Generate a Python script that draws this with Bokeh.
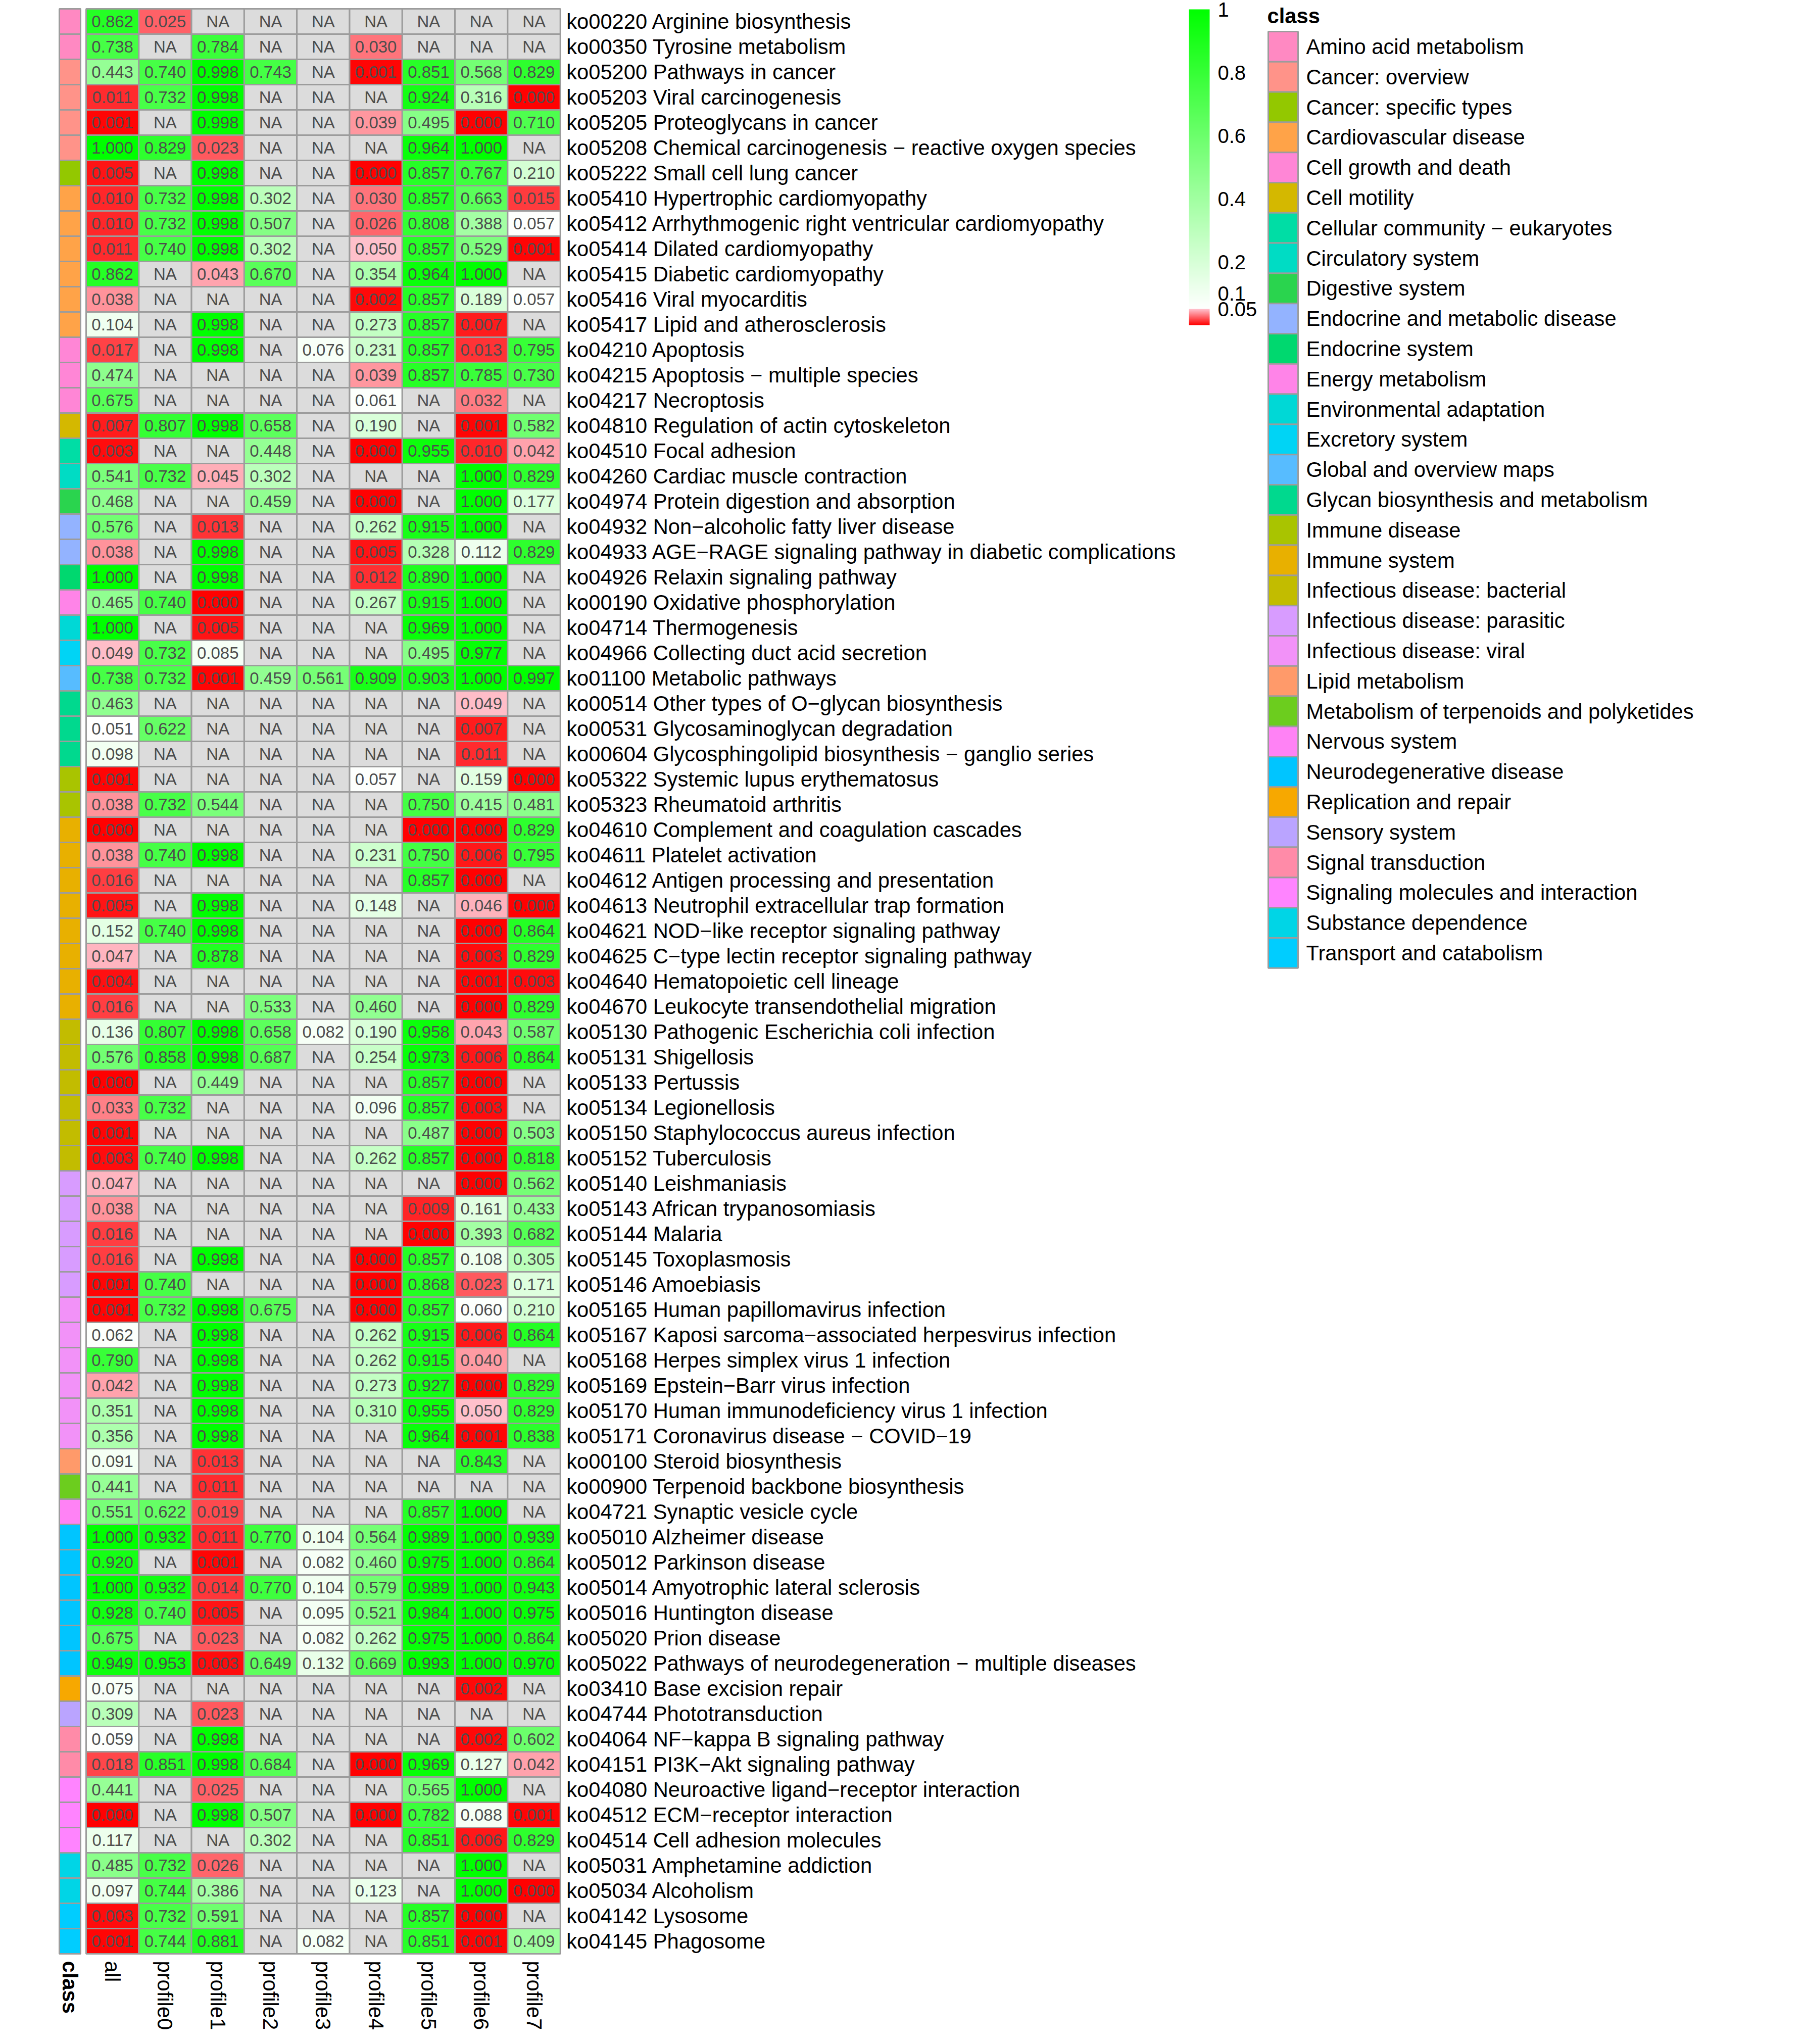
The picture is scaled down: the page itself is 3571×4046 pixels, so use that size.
import math
import numpy as np
from bokeh.plotting import figure
from bokeh.models import (ColumnDataSource, Range1d, LinearColorMapper, ColorBar, FixedTicker,
                          AllLabels)
from bokeh.core.properties import value
from bokeh.embed import file_html
from bokeh.resources import INLINE

# ---------------- data ----------------
columns = ["all", "profile0", "profile1", "profile2", "profile3",
           "profile4", "profile5", "profile6", "profile7"]

pathway_ids = [
    "ko00220", "ko00350", "ko05200", "ko05203", "ko05205", "ko05208", "ko05222",
    "ko05410", "ko05412", "ko05414", "ko05415", "ko05416", "ko05417",
    "ko04210", "ko04215", "ko04217", "ko04810", "ko04510", "ko04260", "ko04974",
    "ko04932", "ko04933", "ko04926", "ko00190", "ko04714", "ko04966", "ko01100",
    "ko00514", "ko00531", "ko00604", "ko05322", "ko05323",
    "ko04610", "ko04611", "ko04612", "ko04613", "ko04621", "ko04625", "ko04640", "ko04670",
    "ko05130", "ko05131", "ko05133", "ko05134", "ko05150", "ko05152",
    "ko05140", "ko05143", "ko05144", "ko05145", "ko05146",
    "ko05165", "ko05167", "ko05168", "ko05169", "ko05170", "ko05171",
    "ko00100", "ko00900", "ko04721",
    "ko05010", "ko05012", "ko05014", "ko05016", "ko05020", "ko05022",
    "ko03410", "ko04744", "ko04064", "ko04151", "ko04080", "ko04512", "ko04514",
    "ko05031", "ko05034", "ko04142", "ko04145",
]

pathway_names = [
    "Arginine biosynthesis", "Tyrosine metabolism", "Pathways in cancer",
    "Viral carcinogenesis", "Proteoglycans in cancer",
    "Chemical carcinogenesis \u2212 reactive oxygen species", "Small cell lung cancer",
    "Hypertrophic cardiomyopathy", "Arrhythmogenic right ventricular cardiomyopathy",
    "Dilated cardiomyopathy", "Diabetic cardiomyopathy", "Viral myocarditis",
    "Lipid and atherosclerosis", "Apoptosis", "Apoptosis \u2212 multiple species",
    "Necroptosis", "Regulation of actin cytoskeleton", "Focal adhesion",
    "Cardiac muscle contraction", "Protein digestion and absorption",
    "Non\u2212alcoholic fatty liver disease",
    "AGE\u2212RAGE signaling pathway in diabetic complications",
    "Relaxin signaling pathway", "Oxidative phosphorylation", "Thermogenesis",
    "Collecting duct acid secretion", "Metabolic pathways",
    "Other types of O\u2212glycan biosynthesis", "Glycosaminoglycan degradation",
    "Glycosphingolipid biosynthesis \u2212 ganglio series",
    "Systemic lupus erythematosus", "Rheumatoid arthritis",
    "Complement and coagulation cascades", "Platelet activation",
    "Antigen processing and presentation", "Neutrophil extracellular trap formation",
    "NOD\u2212like receptor signaling pathway", "C\u2212type lectin receptor signaling pathway",
    "Hematopoietic cell lineage", "Leukocyte transendothelial migration",
    "Pathogenic Escherichia coli infection", "Shigellosis", "Pertussis", "Legionellosis",
    "Staphylococcus aureus infection", "Tuberculosis", "Leishmaniasis",
    "African trypanosomiasis", "Malaria", "Toxoplasmosis", "Amoebiasis",
    "Human papillomavirus infection",
    "Kaposi sarcoma\u2212associated herpesvirus infection",
    "Herpes simplex virus 1 infection", "Epstein\u2212Barr virus infection",
    "Human immunodeficiency virus 1 infection", "Coronavirus disease \u2212 COVID\u221219",
    "Steroid biosynthesis", "Terpenoid backbone biosynthesis", "Synaptic vesicle cycle",
    "Alzheimer disease", "Parkinson disease", "Amyotrophic lateral sclerosis",
    "Huntington disease", "Prion disease",
    "Pathways of neurodegeneration \u2212 multiple diseases",
    "Base excision repair", "Phototransduction", "NF\u2212kappa B signaling pathway",
    "PI3K\u2212Akt signaling pathway", "Neuroactive ligand\u2212receptor interaction",
    "ECM\u2212receptor interaction", "Cell adhesion molecules", "Amphetamine addiction",
    "Alcoholism", "Lysosome", "Phagosome",
]

class_levels = [
    "Amino acid metabolism", "Cancer: overview", "Cancer: specific types",
    "Cardiovascular disease", "Cell growth and death", "Cell motility",
    "Cellular community \u2212 eukaryotes", "Circulatory system", "Digestive system",
    "Endocrine and metabolic disease", "Endocrine system", "Energy metabolism",
    "Environmental adaptation", "Excretory system", "Global and overview maps",
    "Glycan biosynthesis and metabolism", "Immune disease", "Immune system",
    "Infectious disease: bacterial", "Infectious disease: parasitic",
    "Infectious disease: viral", "Lipid metabolism",
    "Metabolism of terpenoids and polyketides", "Nervous system",
    "Neurodegenerative disease", "Replication and repair", "Sensory system",
    "Signal transduction", "Signaling molecules and interaction",
    "Substance dependence", "Transport and catabolism",
]

class_colors = [
    "#FF89C2", "#FF9389", "#93C800", "#FFA348", "#FF86D6", "#D4B800",
    "#00DDA5", "#00DCC4", "#2AD44E", "#93B3FF", "#00D86F", "#FF84E8",
    "#00D8D6", "#00D4F5", "#57BCFF", "#00D98E", "#A9C400", "#E8B000",
    "#C2BC00", "#D89CFF", "#F292F8", "#FF9A6A", "#6CCD1E", "#FF82F5",
    "#00C5FF", "#F7A800", "#BAA4FF", "#FF8BA8", "#FF84FF", "#00D5E6",
    "#00CDFF",
]

# class index (into class_levels) of every pathway row
pathway_class = [
    0, 0, 1, 1, 1, 1, 2, 3, 3, 3, 3, 3, 3, 4, 4, 4, 5, 6, 7, 8, 9, 9, 10, 11, 12, 13, 14,
    15, 15, 15, 16, 16, 17, 17, 17, 17, 17, 17, 17, 17, 18, 18, 18, 18, 18, 18,
    19, 19, 19, 19, 19, 20, 20, 20, 20, 20, 20, 21, 22, 23,
    24, 24, 24, 24, 24, 24, 25, 26, 27, 27, 28, 28, 28, 29, 29, 30, 30,
]

NA = None
all_vals = [0.862, 0.738, 0.443, 0.011, 0.001, 1.000, 0.005, 0.010, 0.010, 0.011, 0.862, 0.038, 0.104,
            0.017, 0.474, 0.675, 0.007, 0.003, 0.541, 0.468, 0.576, 0.038, 1.000, 0.465, 1.000, 0.049,
            0.738, 0.463, 0.051, 0.098, 0.001, 0.038, 0.000, 0.038, 0.016, 0.005, 0.152, 0.047, 0.004,
            0.016, 0.136, 0.576, 0.000, 0.033, 0.001, 0.003, 0.047, 0.038, 0.016, 0.016, 0.001, 0.001,
            0.062, 0.790, 0.042, 0.351, 0.356, 0.091, 0.441, 0.551, 1.000, 0.920, 1.000, 0.928, 0.675,
            0.949, 0.075, 0.309, 0.059, 0.018, 0.441, 0.000, 0.117, 0.485, 0.097, 0.003, 0.001]
profile0 = [0.025, NA, 0.740, 0.732, NA, 0.829, NA, 0.732, 0.732, 0.740, NA, NA, NA,
            NA, NA, NA, 0.807, NA, 0.732, NA, NA, NA, NA, 0.740, NA, 0.732,
            0.732, NA, 0.622, NA, NA, 0.732, NA, 0.740, NA, NA, 0.740, NA, NA,
            NA, 0.807, 0.858, NA, 0.732, NA, 0.740, NA, NA, NA, NA, 0.740, 0.732,
            NA, NA, NA, NA, NA, NA, NA, 0.622, 0.932, NA, 0.932, 0.740, NA,
            0.953, NA, NA, NA, 0.851, NA, NA, NA, 0.732, 0.744, 0.732, 0.744]
profile1 = [NA, 0.784, 0.998, 0.998, 0.998, 0.023, 0.998, 0.998, 0.998, 0.998, 0.043, NA, 0.998,
            0.998, NA, NA, 0.998, NA, 0.045, NA, 0.013, 0.998, 0.998, 0.000, 0.005, 0.085,
            0.001, NA, NA, NA, NA, 0.544, NA, 0.998, NA, 0.998, 0.998, 0.878, NA,
            NA, 0.998, 0.998, 0.449, NA, NA, 0.998, NA, NA, NA, 0.998, NA, 0.998,
            0.998, 0.998, 0.998, 0.998, 0.998, 0.013, 0.011, 0.019, 0.011, 0.001, 0.014, 0.005, 0.023,
            0.003, NA, 0.023, 0.998, 0.998, 0.025, 0.998, NA, 0.026, 0.386, 0.591, 0.881]
profile2 = [NA, NA, 0.743, NA, NA, NA, NA, 0.302, 0.507, 0.302, 0.670, NA, NA,
            NA, NA, NA, 0.658, 0.448, 0.302, 0.459, NA, NA, NA, NA, NA, NA,
            0.459, NA, NA, NA, NA, NA, NA, NA, NA, NA, NA, NA, NA,
            0.533, 0.658, 0.687, NA, NA, NA, NA, NA, NA, NA, NA, NA, 0.675,
            NA, NA, NA, NA, NA, NA, NA, NA, 0.770, NA, 0.770, NA, NA,
            0.649, NA, NA, NA, 0.684, NA, 0.507, 0.302, NA, NA, NA, NA]
profile3 = [NA, NA, NA, NA, NA, NA, NA, NA, NA, NA, NA, NA, NA,
            0.076, NA, NA, NA, NA, NA, NA, NA, NA, NA, NA, NA, NA,
            0.561, NA, NA, NA, NA, NA, NA, NA, NA, NA, NA, NA, NA,
            NA, 0.082, NA, NA, NA, NA, NA, NA, NA, NA, NA, NA, NA,
            NA, NA, NA, NA, NA, NA, NA, NA, 0.104, 0.082, 0.104, 0.095, 0.082,
            0.132, NA, NA, NA, NA, NA, NA, NA, NA, NA, NA, 0.082]
profile4 = [NA, 0.030, 0.001, NA, 0.039, NA, 0.000, 0.030, 0.026, 0.050, 0.354, 0.002, 0.273,
            0.231, 0.039, 0.061, 0.190, 0.000, NA, 0.000, 0.262, 0.005, 0.012, 0.267, NA, NA,
            0.909, NA, NA, NA, 0.057, NA, NA, 0.231, NA, 0.148, NA, NA, NA,
            0.460, 0.190, 0.254, NA, 0.096, NA, 0.262, NA, NA, NA, 0.000, 0.000, 0.000,
            0.262, 0.262, 0.273, 0.310, NA, NA, NA, NA, 0.564, 0.460, 0.579, 0.521, 0.262,
            0.669, NA, NA, NA, 0.000, NA, 0.000, NA, NA, 0.123, NA, NA]
profile5 = [NA, NA, 0.851, 0.924, 0.495, 0.964, 0.857, 0.857, 0.808, 0.857, 0.964, 0.857, 0.857,
            0.857, 0.857, NA, NA, 0.955, NA, NA, 0.915, 0.328, 0.890, 0.915, 0.969, 0.495,
            0.903, NA, NA, NA, NA, 0.750, 0.000, 0.750, 0.857, NA, NA, NA, NA,
            NA, 0.958, 0.973, 0.857, 0.857, 0.487, 0.857, NA, 0.009, 0.000, 0.857, 0.868, 0.857,
            0.915, 0.915, 0.927, 0.955, 0.964, NA, NA, 0.857, 0.989, 0.975, 0.989, 0.984, 0.975,
            0.993, NA, NA, NA, 0.969, 0.565, 0.782, 0.851, NA, NA, 0.857, 0.851]
profile6 = [NA, NA, 0.568, 0.316, 0.000, 1.000, 0.767, 0.663, 0.388, 0.529, 1.000, 0.189, 0.007,
            0.013, 0.785, 0.032, 0.001, 0.010, 1.000, 1.000, 1.000, 0.112, 1.000, 1.000, 1.000, 0.977,
            1.000, 0.049, 0.007, 0.011, 0.159, 0.415, 0.000, 0.006, 0.000, 0.046, 0.000, 0.003, 0.001,
            0.000, 0.043, 0.006, 0.000, 0.003, 0.000, 0.000, 0.000, 0.161, 0.393, 0.108, 0.023, 0.060,
            0.006, 0.040, 0.000, 0.050, 0.001, 0.843, NA, 1.000, 1.000, 1.000, 1.000, 1.000, 1.000,
            1.000, 0.002, NA, 0.002, 0.127, 1.000, 0.088, 0.006, 1.000, 1.000, 0.000, 0.001]
profile7 = [NA, NA, 0.829, 0.000, 0.710, NA, 0.210, 0.015, 0.057, 0.001, NA, 0.057, NA,
            0.795, 0.730, NA, 0.582, 0.042, 0.829, 0.177, NA, 0.829, NA, NA, NA, NA,
            0.997, NA, NA, NA, 0.000, 0.481, 0.829, 0.795, NA, 0.000, 0.864, 0.829, 0.003,
            0.829, 0.587, 0.864, NA, NA, 0.503, 0.818, 0.562, 0.433, 0.682, 0.305, 0.171, 0.210,
            0.864, NA, 0.829, 0.829, 0.838, NA, NA, NA, 0.939, 0.864, 0.943, 0.975, 0.864,
            0.970, NA, NA, 0.602, 0.042, NA, 0.001, 0.829, NA, 0.000, NA, 0.409]

colorbar_ticks = [0.05, 0.1, 0.2, 0.4, 0.6, 0.8, 1.0]
colorbar_tick_labels = ["0.05", "0.1", "0.2", "0.4", "0.6", "0.8", "1"]

# ---------------- layout (pixels) ----------------
W, H = 3555, 4030
CELL_W, CELL_H = 104.3, 50.0
HM_LEFT, HM_TOP = 170.0, 17.0
STRIP_W, STRIP_GAP = 42.0, 11.0
GRID = "#9C9C9C"
FONT_NAME = "Liberation Sans"
FONT = value(FONT_NAME)

x0 = -0.5 - HM_LEFT / CELL_W
y0 = -0.5 - HM_TOP / CELL_H
def px_x(px):
    return x0 + px / CELL_W
def px_y(py):
    return y0 + py / CELL_H

p = figure(width=W, height=H, output_backend="svg", toolbar_location=None,
           x_range=Range1d(x0, x0 + W / CELL_W),
           y_range=Range1d(y0 + H / CELL_H, y0),
           x_axis_type=None, y_axis_type=None, min_border=0)
p.grid.visible = False
p.outline_line_color = None
p.background_fill_color = "white"
p.border_fill_color = "white"

# colour scale
N_BINS = 2000
palette = []
for k in range(N_BINS):
    c = (k + 0.5) / N_BINS
    if k <= 100:
        t = min(c / 0.05, 1.0)
        r, g, b = 255, round(192 * t), round(203 * t)
    else:
        t = (c - 0.05) / 0.95
        r = b = round(255 * (1 - t))
        g = 255
    palette.append("#%02x%02x%02x" % (r, g, b))
mapper = LinearColorMapper(palette=palette, low=0, high=1, nan_color="#DCDCDC")

n_rows = len(pathway_ids)
series = [all_vals, profile0, profile1, profile2, profile3, profile4, profile5, profile6, profile7]
xs, ys, vs, txt = [], [], [], []
for j, col in enumerate(series):
    for i, v in enumerate(col):
        xs.append(j)
        ys.append(i)
        vs.append(np.nan if v is None else v)
        txt.append("NA" if v is None else "%.3f" % v)
src = ColumnDataSource(dict(x=xs, y=ys, v=np.array(vs, dtype=float), t=txt))

p.rect(x="x", y="y", width=1, height=1, source=src,
       fill_color={"field": "v", "transform": mapper},
       line_color=GRID, line_width=3)
p.text(x="x", y="y", text="t", source=src, text_align="center", text_baseline="middle",
       text_font=FONT, text_font_size="33px", text_color="#4D4D4D")

# class annotation strip
strip_x = -0.5 - (STRIP_GAP + STRIP_W / 2) / CELL_W
strip_src = ColumnDataSource(dict(
    x=[strip_x] * n_rows, y=list(range(n_rows)),
    c=[class_colors[k] for k in pathway_class]))
p.rect(x="x", y="y", width=STRIP_W / CELL_W, height=1, source=strip_src,
       fill_color="c", line_color=GRID, line_width=3)

# row labels
p.text(x=[len(columns) - 0.5] * n_rows, y=list(range(n_rows)),
       text=[a + " " + b for a, b in zip(pathway_ids, pathway_names)],
       x_offset=12, text_align="left", text_baseline="middle",
       text_font=FONT, text_font_size="41.7px", text_color="black")

# column labels
p.text(x=list(range(len(columns))), y=[n_rows - 0.5] * len(columns), text=columns,
       angle=-math.pi / 2, y_offset=14, text_align="left", text_baseline="middle",
       text_font=FONT, text_font_size="41.7px", text_color="black")
p.text(x=[strip_x], y=[n_rows - 0.5], text=["class"],
       angle=-math.pi / 2, y_offset=14, text_align="left", text_baseline="middle",
       text_font=FONT, text_font_size="41.7px", text_font_style="bold", text_color="black")

# colour bar
cb = ColorBar(color_mapper=mapper, ticker=FixedTicker(ticks=colorbar_ticks),
              major_label_overrides={t: l for t, l in zip(colorbar_ticks, colorbar_tick_labels)},
              major_label_policy=AllLabels(),
              width=41, height=625, location=(2353, H - 643), padding=0, margin=0,
              label_standoff=16, major_tick_line_color=None, minor_tick_line_color=None,
              bar_line_color=None, border_line_color=None, background_fill_alpha=0,
              major_label_text_font=FONT_NAME, major_label_text_font_size="40px",
              major_label_text_color="black")
p.add_layout(cb, "center")

# class legend
LEG_X, LEG_TOP, LEG_ROW, LEG_SW = 2510.0, 62.0, 59.8, 59.0
leg_idx = list(range(len(class_levels)))
leg_src = ColumnDataSource(dict(
    x=[px_x(LEG_X + LEG_SW / 2)] * len(class_levels),
    y=[px_y(LEG_TOP + LEG_ROW * (k + 0.5)) for k in leg_idx],
    c=class_colors, lab=class_levels))
p.rect(x="x", y="y", width=LEG_SW / CELL_W, height=LEG_ROW / CELL_H, source=leg_src,
       fill_color="c", line_color=GRID, line_width=3)
p.text(x="x", y="y", text="lab", source=leg_src, x_offset=LEG_SW / 2 + 16,
       text_align="left", text_baseline="middle", text_font=FONT,
       text_font_size="41.7px", text_color="black")
p.text(x=[px_x(LEG_X - 2)], y=[px_y(31)], text=["class"], text_align="left",
       text_baseline="middle", text_font=FONT, text_font_size="41.7px",
       text_font_style="bold", text_color="black")

open("out.html", "w").write(file_html(p, INLINE))
